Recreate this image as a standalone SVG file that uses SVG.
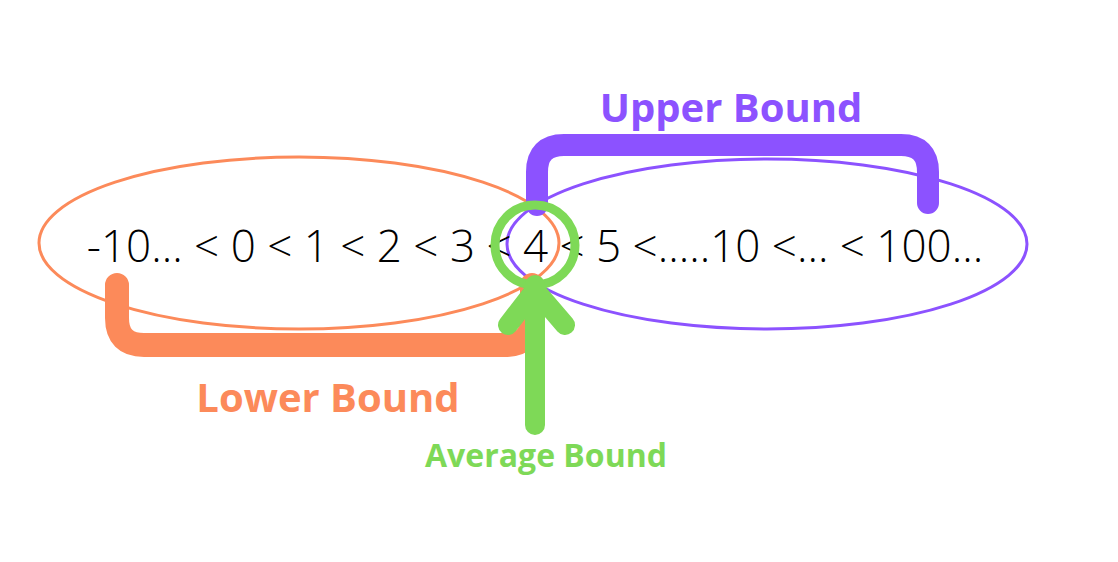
<svg xmlns="http://www.w3.org/2000/svg" width="1118" height="562" viewBox="0 0 1118 562">
<style>
.o{stroke:#FC8A5A}.p{stroke:#8C52FF}.g{stroke:#7ED957}
.e{fill:none;stroke-width:3}
.b{fill:none;stroke-linecap:round;stroke-linejoin:round}
.lbl{font-family:"Open Sans",sans-serif;font-weight:bold}
</style>
<rect width="1118" height="562" fill="#fff"/>
<g id="lower-set"><ellipse class="e o" cx="299" cy="243" rx="260" ry="86"/></g>
<g id="upper-set"><ellipse class="e p" cx="767" cy="244" rx="260" ry="85"/></g>
<g id="sequence"><text x="535" y="262" text-anchor="middle" font-family="'Open Sans',sans-serif" font-weight="300" font-size="44" fill="#000">-10... &lt; 0 &lt; 1 &lt; 2 &lt; 3 &lt; 4 &lt; 5 &lt;.....10 &lt;... &lt; 100...</text></g>
<g id="connectors">
<path class="b p" stroke-width="22" d="M537,205 V172 Q537,145 564,145 H901 Q928,145 928,172 V203"/>
<path class="b o" stroke-width="24" d="M117,285 V318 Q117,345 144,345 H505 Q532,345 532,318 V285"/>
<circle cx="535" cy="245" r="40" fill="none" class="g" stroke-width="9"/>
<path class="b g" stroke-width="20" d="M535,425 V285 M508,325 L535,290 L565,325"/>
</g>
<g id="upper-label"><text class="lbl" x="731" y="122" text-anchor="middle" font-size="40" fill="#8C52FF">Upper Bound</text></g>
<g id="lower-label"><text class="lbl" x="328" y="412" text-anchor="middle" font-size="40" fill="#FC8A5A">Lower Bound</text></g>
<g id="average-label"><text class="lbl" x="546" y="467" text-anchor="middle" font-size="32" fill="#7ED957">Average Bound</text></g>
</svg>
